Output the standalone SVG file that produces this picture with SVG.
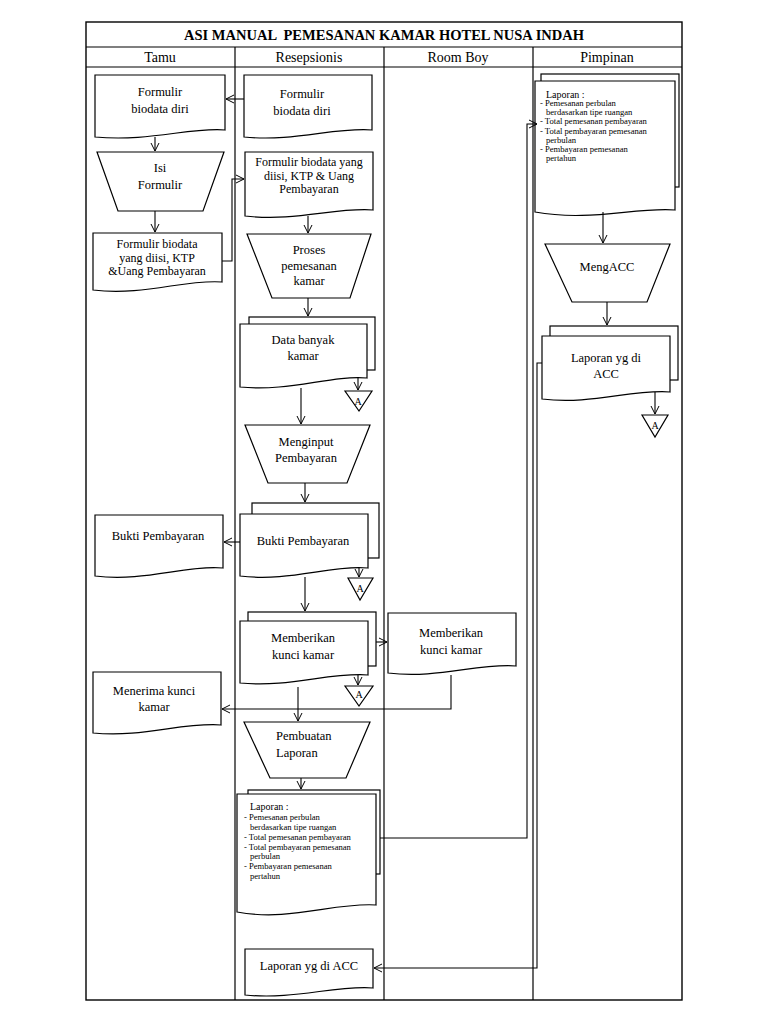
<svg xmlns="http://www.w3.org/2000/svg" width="768" height="1024" viewBox="0 0 768 1024">
<style>
.s{fill:#fff;stroke:#000;stroke-width:1.2}
.l{fill:none;stroke:#000;stroke-width:1.1}
text{font-family:"Liberation Serif",serif;fill:#000;font-size:12.5px;text-anchor:middle}
.sm{font-size:8.6px;text-anchor:start}
.lp{font-size:10px;text-anchor:start}
.h{font-size:14px}
</style>
<defs><marker id="a" markerWidth="10" markerHeight="10" refX="9" refY="5" orient="auto" markerUnits="userSpaceOnUse"><path d="M1,1 L9,5 L1,9" fill="none" stroke="#000" stroke-width="1"/></marker></defs>
<rect width="768" height="1024" fill="#fff"/>
<g id="frame">
<rect x="86" y="22" width="596" height="978" fill="none" stroke="#000" stroke-width="1.4"/>
<line x1="86" y1="47" x2="682" y2="47" stroke="#000" stroke-width="1.2"/>
<line x1="86" y1="67" x2="682" y2="67" stroke="#000" stroke-width="1.2"/>
<line x1="235" y1="47" x2="235" y2="1000" stroke="#000" stroke-width="1.2"/>
<line x1="384" y1="47" x2="384" y2="1000" stroke="#000" stroke-width="1.2"/>
<line x1="533" y1="47" x2="533" y2="1000" stroke="#000" stroke-width="1.2"/>
<text x="384" y="40" style="font-weight:bold;font-size:14.5px;white-space:pre">ASI MANUAL  PEMESANAN KAMAR HOTEL NUSA INDAH</text>
<text class="h" x="160" y="62">Tamu</text>
<text class="h" x="309" y="62">Resepsionis</text>
<text class="h" x="458" y="62">Room Boy</text>
<text class="h" x="607" y="62">Pimpinan</text>
</g>
<g id="t1"><path class="s" d="M95,75 H225 V130 C190,127 150,142 95,137 Z"/><text x="160" y="96">Formulir</text><text x="160" y="113">biodata diri</text></g>
<g id="t2"><path class="s" d="M97,152 H224 L203,211 H118 Z"/><text x="160" y="172">Isi</text><text x="160" y="189">Formulir</text></g>
<g id="t3"><path class="s" d="M93,233 H222 V282 C185,279 145,296 93,290 Z"/><text x="157" y="248" style="font-size:12px">Formulir biodata</text><text x="157" y="262" style="font-size:12px">yang diisi, KTP</text><text x="157" y="275" style="font-size:12px">&amp;Uang Pembayaran</text></g>
<g id="t4"><path class="s" d="M95,515 H223 V568 C185,565 145,582 95,576 Z"/><text x="158" y="540">Bukti Pembayaran</text></g>
<g id="t5"><path class="s" d="M93,672 H221 V725 C183,722 143,738 93,733 Z"/><text x="154" y="695">Menerima kunci</text><text x="154" y="711">kamar</text></g>
<g id="r1"><path class="s" d="M244,75 H372 V130 C335,127 295,142 244,137 Z"/><text x="302" y="98">Formulir</text><text x="302" y="115">biodata diri</text></g>
<g id="r2"><path class="s" d="M245,152 H373 V210 C336,207 296,222 245,216 Z"/><text x="309" y="166" style="font-size:12px">Formulir biodata yang</text><text x="309" y="180" style="font-size:12px">diisi, KTP &amp; Uang</text><text x="309" y="193" style="font-size:12px">Pembayaran</text></g>
<g id="r3"><path class="s" d="M247,234 H371 L350,298 H272 Z"/><text x="309" y="254">Proses</text><text x="309" y="270">pemesanan</text><text x="309" y="285">kamar</text></g>
<g id="r4"><rect class="s" x="249" y="317" width="126" height="53"/><path class="s" d="M240,324 H367 V378 C330,375 290,392 240,387 Z"/><text x="303" y="344">Data banyak</text><text x="303" y="360">kamar</text></g>
<g id="r4a"><path class="s" d="M345,391 H372 L359,411 Z"/><text x="358" y="405" style="font-size:10px">A</text></g>
<g id="r5"><path class="s" d="M245,425 H370 L347,483 H268 Z"/><text x="306" y="446">Menginput</text><text x="306" y="462">Pembayaran</text></g>
<g id="r6"><rect class="s" x="252" y="503" width="127" height="55"/><path class="s" d="M240,514 H368 V568 C330,565 290,582 240,576 Z"/><text x="303" y="545">Bukti Pembayaran</text></g>
<g id="r6a"><path class="s" d="M348,578 H373 L360,600 Z"/><text x="360" y="592" style="font-size:10px">A</text></g>
<g id="r7"><rect class="s" x="248" y="612" width="128" height="54"/><path class="s" d="M240,621 H368 V675 C330,672 290,688 240,683 Z"/><text x="303" y="642">Memberikan</text><text x="303" y="659">kunci kamar</text></g>
<g id="r7a"><path class="s" d="M345,686 H373 L359,706 Z"/><text x="359" y="698" style="font-size:10px">A</text></g>
<g id="b1"><path class="s" d="M388,613 H516 V666 C478,663 438,679 388,673 Z"/><text x="451" y="637">Memberikan</text><text x="451" y="654">kunci kamar</text></g>
<g id="r8"><path class="s" d="M244,722 H370 L346,778 H270 Z"/><text x="276" y="740" style="text-anchor:start">Pembuatan</text><text x="276" y="757" style="text-anchor:start">Laporan</text></g>
<g id="r9"><rect class="s" x="248" y="790" width="132" height="84"/><path class="s" d="M237,794 H376 V905 C335,902 290,922 237,912 Z"/>
<text class="lp" x="250" y="810">Laporan :</text>
<text class="sm" x="244" y="820">- Pemesanan perbulan</text><text class="sm" x="250" y="830">berdasarkan tipe ruangan</text>
<text class="sm" x="244" y="840">- Total pemesanan pembayaran</text><text class="sm" x="244" y="850">- Total pembayaran pemesanan</text>
<text class="sm" x="250" y="859">perbulan</text><text class="sm" x="244" y="869">- Pembayaran pemesanan</text><text class="sm" x="250" y="879">pertahun</text></g>
<g id="r10"><path class="s" d="M245,949 H373 V988 C335,985 295,1000 245,995 Z"/><text x="309" y="970">Laporan yg di ACC</text></g>
<g id="p1"><rect class="s" x="541" y="74" width="138" height="113"/><path class="s" d="M535,81 H675 V210 C635,207 590,222 535,212 Z"/>
<text class="lp" x="546" y="98">Laporan :</text>
<text class="sm" x="540" y="106">- Pemesanan perbulan</text><text class="sm" x="546" y="115">berdasarkan tipe ruangan</text>
<text class="sm" x="540" y="124">- Total pemesanan pembayaran</text><text class="sm" x="540" y="134">- Total pembayaran pemesanan</text>
<text class="sm" x="546" y="143">perbulan</text><text class="sm" x="540" y="152">- Pembayaran pemesanan</text><text class="sm" x="546" y="161">pertahun</text></g>
<g id="p2"><path class="s" d="M545,244 H670 L647,302 H572 Z"/><text x="607" y="271">MengACC</text></g>
<g id="p3"><rect class="s" x="550" y="326" width="128" height="54"/><path class="s" d="M542,336 H670 V392 C632,389 592,405 542,399 Z"/><text x="606" y="362">Laporan yg di</text><text x="606" y="378">ACC</text></g>
<g id="p3a"><path class="s" d="M642,415 H668 L655,437 Z"/><text x="655" y="429" style="font-size:10px">A</text></g>
<g id="connectors">
<path class="l" d="M244,99 H226" marker-end="url(#a)"/>
<path class="l" d="M155,137 V151" marker-end="url(#a)"/>
<path class="l" d="M155,211 V232" marker-end="url(#a)"/>
<path class="l" d="M222,261 H232 V179 H244" marker-end="url(#a)"/>
<path class="l" d="M308,216 V233" marker-end="url(#a)"/>
<path class="l" d="M308,298 V316" marker-end="url(#a)"/>
<path class="l" d="M358,378 V390" marker-end="url(#a)"/>
<path class="l" d="M301,388 V424" marker-end="url(#a)"/>
<path class="l" d="M305,483 V502" marker-end="url(#a)"/>
<path class="l" d="M240,542 H224" marker-end="url(#a)"/>
<path class="l" d="M359,568 V577" marker-end="url(#a)"/>
<path class="l" d="M305,577 V611" marker-end="url(#a)"/>
<path class="l" d="M376,642 H387" marker-end="url(#a)"/>
<path class="l" d="M358,675 V685" marker-end="url(#a)"/>
<path class="l" d="M298,687 V721" marker-end="url(#a)"/>
<path class="l" d="M451,675 V709 H222" marker-end="url(#a)"/>
<path class="l" d="M301,778 V789" marker-end="url(#a)"/>
<path class="l" d="M380,838 H527 V124 H537" marker-end="url(#a)"/>
<path class="l" d="M603,212 V243" marker-end="url(#a)"/>
<path class="l" d="M607,302 V325" marker-end="url(#a)"/>
<path class="l" d="M655,392 V414" marker-end="url(#a)"/>
<path class="l" d="M542,363 H537 V968 H374" marker-end="url(#a)"/>
</g>
</svg>
